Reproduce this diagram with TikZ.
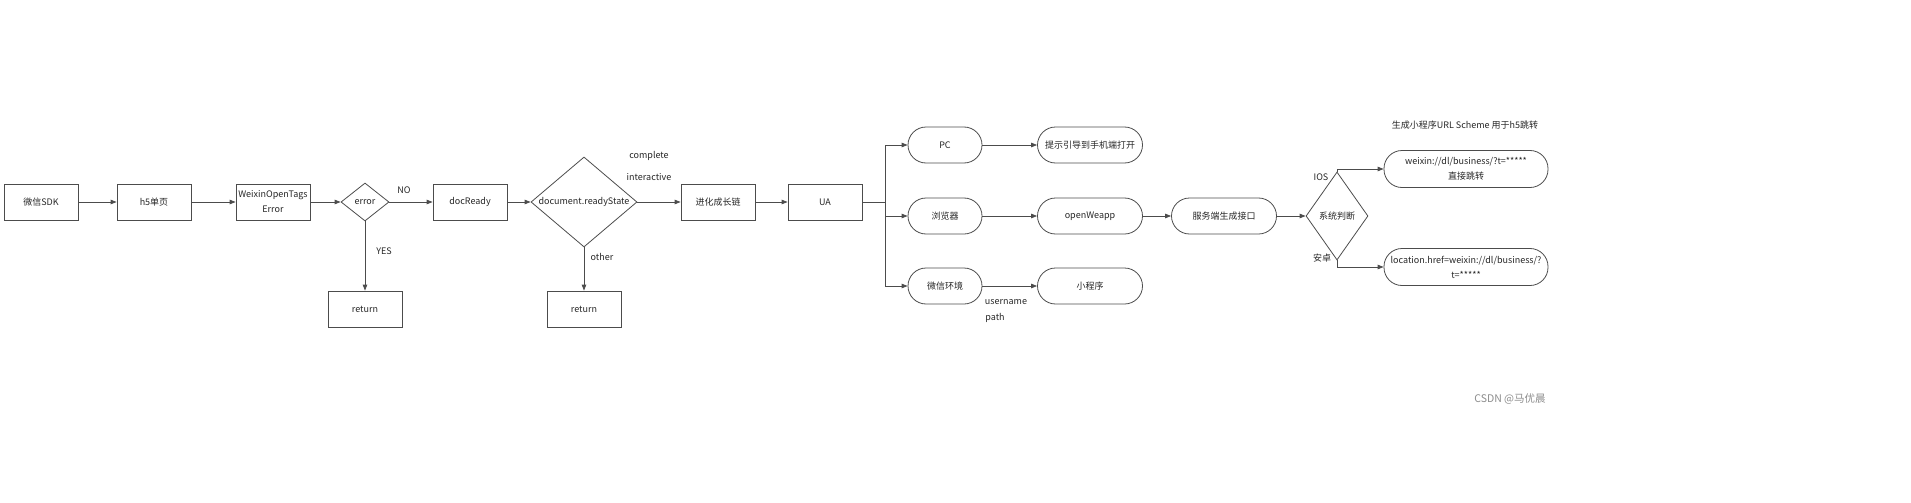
\documentclass[tikz,border=0pt]{standalone}
\usepackage{fontspec}
\setmainfont{Noto Sans CJK SC}
\usetikzlibrary{shapes.geometric,arrows.meta}
\begin{document}
\begin{tikzpicture}[x=1pt,y=-1pt,
  every node/.style={font=\fontsize{9}{15}\selectfont, text=black!85},
  box/.style={draw=black!70, line width=0.8pt, minimum width=74pt, minimum height=36pt, inner sep=1pt, align=center},
  pill/.style={box, rounded corners=18pt},
  dia/.style={draw=black!70, line width=0.8pt, diamond, inner sep=0pt},
  arr/.style={draw=black!70, line width=0.8pt, -{Triangle[length=6pt,width=4.5pt]}},
  lbl/.style={inner sep=1pt}]
\useasboundingbox (0,0) rectangle (1911,503);
\node[box] (sdk) at (41,202) {微信SDK};
\node[box] (h5) at (154,202) {h5单页};
\node[box] (wot) at (273,202) {WeixinOpenTags\\Error};
\node[dia, minimum width=48pt, minimum height=38pt] (err) at (365,202) {};
\node at (365,202) {error};
\node[box] (dr) at (470,202) {docReady};
\node[dia, minimum width=106pt, minimum height=90pt] (rs) at (584,202) {};
\node at (584,202) {document.readyState};
\node[box] (jh) at (718,202) {进化成长链};
\node[box] (ua) at (825,202) {UA};
\node[box] (r1) at (365,309) {return};
\node[box] (r2) at (584,309) {return};
\node[pill] (pc) at (945,145) {PC};
\node[pill] (llq) at (945,216) {浏览器};
\node[pill] (wx) at (945,286) {微信环境};
\node[pill, minimum width=105pt] (ts) at (1090,145) {提示引导到手机端打开};
\node[pill, minimum width=105pt] (ow) at (1090,216) {openWeapp};
\node[pill, minimum width=105pt] (xcx) at (1090,286) {小程序};
\node[pill, minimum width=105pt] (fw) at (1224,216) {服务端生成接口};
\node[dia, minimum width=62pt, minimum height=88pt] (xt) at (1337,216) {};
\node at (1337,216) {系统判断};
\node[pill, minimum width=164pt, minimum height=37pt] (ios) at (1466,169) {weixin://dl/business/?t=*****\\直接跳转};
\node[pill, minimum width=164pt, minimum height=37pt] (and) at (1466,267) {location.href=weixin://dl/business/?\\t=*****};
\coordinate (br) at (885,202);
\draw[arr] (sdk) -- (h5);
\draw[arr] (h5) -- (wot);
\draw[arr] (wot) -- (err);
\draw[arr] (err) -- (dr);
\draw[arr] (err) -- (r1);
\draw[arr] (dr) -- (rs);
\draw[arr] (rs) -- (jh);
\draw[arr] (rs) -- (r2);
\draw[arr] (jh) -- (ua);
\draw[draw=black!70, line width=0.8pt] (ua.east) -- (br) (br |- pc) -- (br |- wx);
\draw[arr] (br |- pc) -- (pc);
\draw[arr] (br |- llq) -- (llq);
\draw[arr] (br |- wx) -- (wx);
\draw[arr] (pc) -- (ts);
\draw[arr] (llq) -- (ow);
\draw[arr] (wx) -- (xcx);
\draw[arr] (ow) -- (fw);
\draw[arr] (fw) -- (xt);
\draw[arr] (xt.north) |- (ios.west);
\draw[arr] (xt.south) |- (and.west);
\node[lbl] at (404,190) {NO};
\node[lbl] at (384,251) {YES};
\node[lbl] at (649,156) {complete};
\node[lbl] at (649,177) {interactive};
\node[lbl] at (602,257) {other};
\node[lbl] at (1006,302) {username};
\node[lbl] at (995,318) {path};
\node[lbl] at (1321,177) {IOS};
\node[lbl] at (1322,258) {安卓};
\node[lbl] at (1465,125) {生成小程序URL Scheme 用于h5跳转};
\node[lbl, text=black!45, font=\fontsize{10.5}{12}\selectfont] at (1510,399) {CSDN @马优晨};
\end{tikzpicture}
\end{document}
